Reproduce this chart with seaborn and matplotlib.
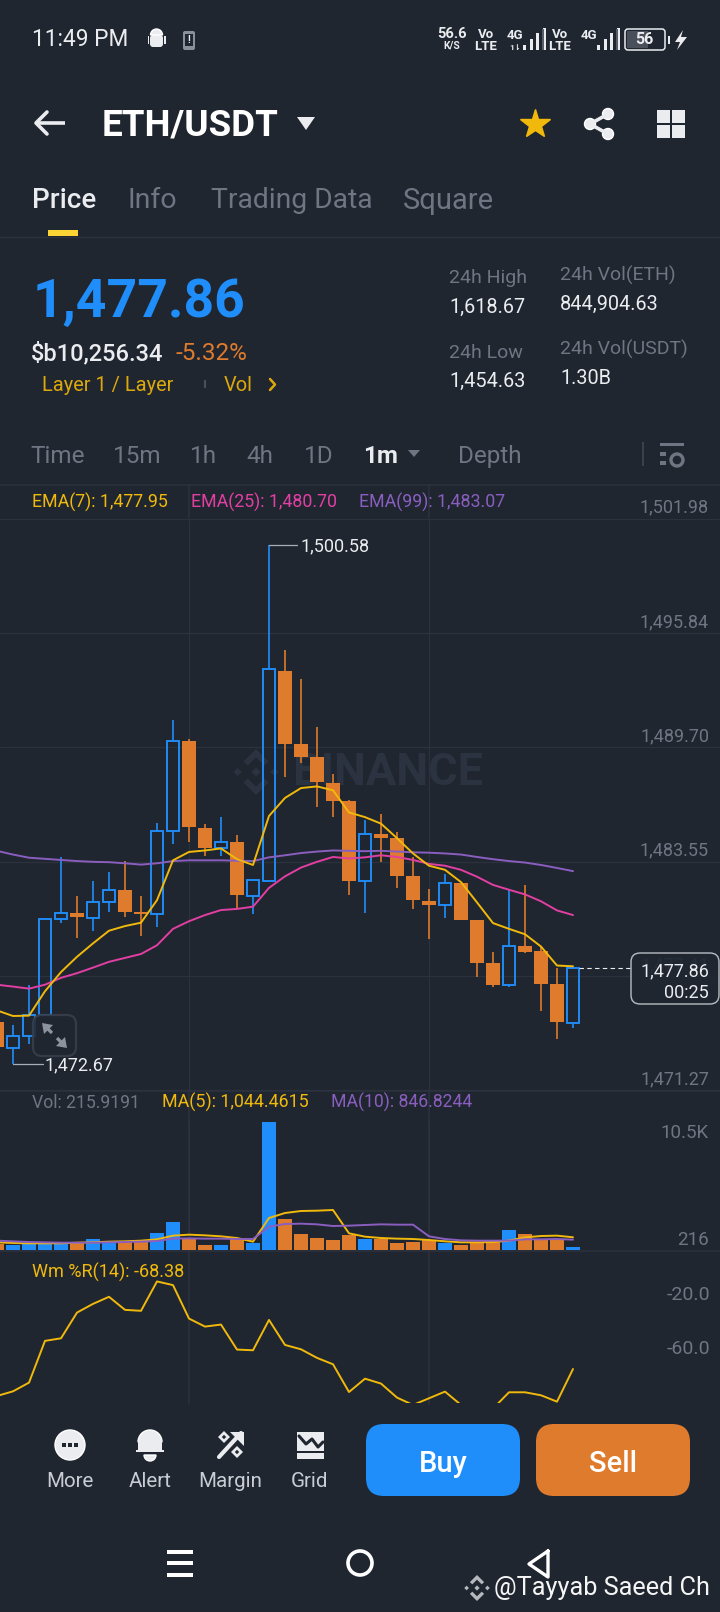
import numpy as np
import pandas as pd
import matplotlib
matplotlib.use('Agg')
import matplotlib.pyplot as plt
from matplotlib.patches import Circle, FancyBboxPatch, Polygon, Rectangle, Wedge
import seaborn as sns

# ----------- DATA ------------

candle_open = [1474.96, 1473.54, 1474.22, 1475.31, 1480.46, 1480.79, 1480.55, 1481.37, 1482.03, 1480.85,
               1480.73, 1485.19, 1490.06, 1485.38, 1484.29, 1484.61, 1481.74, 1482.54, 1493.82, 1489.86,
               1489.18, 1487.80, 1486.79, 1482.52, 1485.03, 1484.82, 1482.79, 1481.47, 1481.25, 1482.40,
               1480.40, 1478.10, 1476.91, 1479.05, 1478.78, 1476.99, 1474.92]
candle_close = [1473.58, 1474.20, 1475.31, 1480.46, 1480.81, 1480.61, 1481.37, 1482.03, 1480.87, 1480.75,
                1485.19, 1490.06, 1485.42, 1484.31, 1484.61, 1481.76, 1482.56, 1493.90, 1489.88, 1489.20,
                1487.82, 1486.81, 1482.54, 1485.03, 1484.82, 1482.79, 1481.49, 1481.25, 1482.42, 1480.40,
                1478.12, 1476.95, 1479.05, 1478.72, 1477.01, 1474.96, 1477.87]
candle_high = [1474.96, 1474.77, 1476.91, 1480.46, 1483.79, 1481.70, 1482.52, 1482.99, 1483.59, 1481.70,
               1485.64, 1491.19, 1490.12, 1485.56, 1485.93, 1484.99, 1482.56, 1500.58, 1494.91, 1493.35,
               1490.80, 1488.25, 1486.86, 1485.77, 1486.10, 1485.13, 1483.79, 1482.09, 1482.91, 1482.40,
               1480.40, 1478.72, 1482.05, 1482.29, 1478.96, 1477.83, 1477.87]
candle_low = [1473.58, 1472.67, 1473.79, 1475.31, 1480.26, 1479.48, 1479.85, 1480.85, 1480.59, 1479.54,
              1480.07, 1484.53, 1484.61, 1483.84, 1483.84, 1481.06, 1480.77, 1482.54, 1488.11, 1488.87,
              1486.50, 1485.93, 1481.76, 1480.81, 1483.55, 1482.15, 1481.02, 1479.38, 1480.53, 1480.40,
              1477.36, 1476.81, 1476.85, 1478.66, 1475.53, 1474.03, 1474.65]

ema7 = [1475.57, 1475.27, 1475.29, 1476.60, 1477.63, 1478.45, 1479.17, 1479.85, 1480.10, 1480.28,
        1481.49, 1483.63, 1484.08, 1484.16, 1484.27, 1483.69, 1483.38, 1486.01, 1486.98, 1487.51,
        1487.60, 1487.39, 1486.20, 1485.95, 1485.60, 1484.82, 1484.00, 1483.34, 1483.12, 1482.46,
        1481.37, 1480.26, 1479.95, 1479.66, 1479.00, 1477.98, 1477.94]
ema25 = [1476.95, 1476.85, 1476.74, 1476.95, 1477.32, 1477.57, 1477.87, 1478.18, 1478.39, 1478.60,
         1479.07, 1479.95, 1480.36, 1480.69, 1480.96, 1481.02, 1481.14, 1482.15, 1482.77, 1483.24,
         1483.55, 1483.81, 1483.73, 1483.79, 1483.90, 1483.81, 1483.65, 1483.44, 1483.34, 1483.12,
         1482.75, 1482.31, 1482.05, 1481.80, 1481.43, 1480.94, 1480.69]
ema99 = [1484.14, 1483.94, 1483.77, 1483.71, 1483.65, 1483.59, 1483.55, 1483.53, 1483.47, 1483.40,
         1483.47, 1483.59, 1483.63, 1483.63, 1483.63, 1483.61, 1483.59, 1483.79, 1483.90, 1484.02,
         1484.10, 1484.16, 1484.14, 1484.12, 1484.14, 1484.10, 1484.06, 1484.04, 1484.00, 1483.94,
         1483.81, 1483.69, 1483.59, 1483.51, 1483.38, 1483.22, 1483.05]

volume = [492, 410, 547, 547, 547, 601, 930, 547, 629, 629, 1394, 2269, 902, 410, 437, 875, 601, 10500, 2543,
          1312, 984, 820, 1203, 902, 930, 574, 629, 820, 601, 437, 629, 656, 1668, 1312, 902, 820, 216]
vol_ma5 = [629, 574, 547, 547, 547, 601, 629, 684, 711, 766, 875, 1176, 1258, 1203, 1121, 984, 684, 2625, 3035,
           3199, 3226, 3281, 1367, 1094, 984, 930, 902, 820, 711, 629, 629, 656, 766, 1039, 1148, 1176, 1044]
vol_ma10 = [766, 711, 656, 629, 601, 601, 601, 629, 656, 684, 738, 930, 957, 930, 930, 902, 902, 1914, 2133,
            2160, 2105, 1968, 1996, 2051, 2105, 2078, 2078, 1121, 902, 793, 766, 766, 766, 875, 875, 902, 847]

williams_r = [-88.2, -84.8, -78.4, -47.7, -45.8, -26.9, -20.5, -15.3, -24.9, -25.6, -4.0, -6.7, -31.3, -37.2,
              -35.7, -54.1, -54.6, -32.3, -50.7, -53.9, -60.2, -64.9, -85.3, -75.5, -79.1, -89.4, -94.8, -89.9,
              -85.0, -94.8, -99.8, -97.5, -85.5, -85.5, -87.7, -92.4, -68.38]

price_ticks = [1501.98, 1495.84, 1489.70, 1483.55, 1477.41, 1471.27]
price_tick_labels = ['1,501.98', '1,495.84', '1,489.70', '1,483.55', '1,477.41', '1,471.27']
last_price = 1477.86

# ----------- STYLE ------------

BG = '#1F2630'
LINE = '#2B323E'
GRAY = '#6E7684'
LIGHT = '#EAECEF'
BLUE = '#1F8EFA'
ORANGE = '#DE7B2C'
YELLOW = '#F0B90B'
PINK = '#E23FA3'
PURPLE = '#8A5EBF'

W, H = 720, 1612
sns.set_theme(style='dark', rc={'axes.facecolor': 'none', 'figure.facecolor': BG})
plt.rcParams['font.family'] = ['Roboto', 'DejaVu Sans']

fig = plt.figure(figsize=(W / 100, H / 100), dpi=100)

# layer under the charts and layer over them, both in pixels
ui = fig.add_axes([0, 0, 1, 1], zorder=0)
top = fig.add_axes([0, 0, 1, 1], zorder=5)
for a in (ui, top):
    a.set_xlim(0, W)
    a.set_ylim(H, 0)
    a.set_axis_off()


def t(x, y, s, size=12, color=GRAY, ha='left', weight='normal', layer=ui):
    # va center sits a little high because of the descent, hence the 1.5
    layer.text(x, y + 1.5, s, fontsize=size, color=color, ha=ha, va='center', fontweight=weight)


def rect(x0, y0, x1, y1, color, layer=ui):
    layer.add_patch(Rectangle((x0, y0), x1 - x0, y1 - y0, facecolor=color, edgecolor='none'))


def rbox(x0, y0, x1, y1, r, face, edge='none', lw=1, layer=ui, alpha=None):
    layer.add_patch(FancyBboxPatch((x0 + r, y0 + r), x1 - x0 - 2 * r, y1 - y0 - 2 * r,
                                   boxstyle=f'round,pad={r},rounding_size={r}',
                                   facecolor=face, edgecolor=edge, linewidth=lw, alpha=alpha))


def poly(pts, color, layer=ui):
    layer.add_patch(Polygon(pts, closed=True, facecolor=color, edgecolor='none'))


def diamond(cx, cy, r, color, layer=ui):
    poly([(cx - r, cy), (cx, cy - r), (cx + r, cy), (cx, cy + r)], color, layer)


def binance_logo(cx, cy, s, color):
    # big chevrons top and bottom, small diamonds left, right and centre
    for sign in (-1, 1):
        poly([(cx - 0.55 * s, cy + sign * 0.45 * s), (cx, cy + sign * s), (cx + 0.55 * s, cy + sign * 0.45 * s),
              (cx + 0.36 * s, cy + sign * 0.28 * s), (cx, cy + sign * 0.64 * s),
              (cx - 0.36 * s, cy + sign * 0.28 * s)], color)
        diamond(cx + sign * 0.8 * s, cy, 0.18 * s, color)
    diamond(cx, cy, 0.2 * s, color)


def panel(y_top, y_bottom):
    a = fig.add_axes([0, 1 - y_bottom / H, 1, (y_bottom - y_top) / H], zorder=2)
    a.set_xlim(0.1875, 45.1875)
    a.tick_params(length=0, labelleft=False, labelbottom=False)
    a.set_xticks([])
    sns.despine(ax=a, left=True, bottom=True)
    return a


# ----------- STATUS BAR AND HEADER ------------

t(32, 38.5, '11:49 PM', 16.3, LIGHT)
rbox(150, 35, 163, 47, 3, LIGHT)
ui.add_patch(Wedge((156.5, 35), 6, 180, 360, facecolor=LIGHT))
rect(147.5, 36, 149, 44, LIGHT)
rect(164, 36, 165.5, 44, LIGHT)
rbox(183, 31, 195, 50, 2, '#8A9099')
rect(185, 34, 193, 46, BG)
t(189, 38.5, '!', 7, LIGHT, 'center', 'bold')

t(452, 32, '56.6', 10.5, LIGHT, 'center', 'bold')
t(452, 44, 'K/S', 7.5, LIGHT, 'center', 'bold')
for cx in (486, 560):
    t(cx, 33, 'Vo', 9.5, LIGHT, 'center', 'bold')
    t(cx, 45, 'LTE', 9.5, LIGHT, 'center', 'bold')
t(515, 34, '4G', 9.5, LIGHT, 'center', 'bold')
t(515, 46, '1⇂', 6, LIGHT, 'center', 'bold')
t(589, 34, '4G', 9.5, LIGHT, 'center', 'bold')
for x0 in (523, 597):
    for k, h in enumerate((5, 11, 17, 22)):
        rect(x0 + k * 6.5, 50 - h, x0 + k * 6.5 + 3, 50, LIGHT)
    rect(x0 + 18.5, 29, x0 + 21, 50, '#565D69')
rbox(625, 29, 665, 50, 3, BG, LIGHT, 1.1)
rect(627, 31, 648, 48, '#4A505B')
t(644, 38.5, '56', 11.5, LIGHT, 'center', 'bold')
rect(668, 36, 670, 44, LIGHT)
poly([(683, 30), (675, 42), (680, 42), (677, 50), (687, 37), (681, 37)], LIGHT)

# back arrow
ui.plot([36, 65], [123, 123], color=LIGHT, lw=2.6, solid_capstyle='butt')
ui.plot([47, 36, 47], [112, 123, 134], color=LIGHT, lw=2.6)
t(102, 124, 'ETH/USDT', 26.5, '#FFFFFF', weight='bold')
poly([(297, 117), (315, 117), (306, 130)], LIGHT)
ui.plot([535], [124], marker='*', ms=22, color=YELLOW, mec=YELLOW)
ui.plot([608, 590, 608], [114, 124, 134], color=LIGHT, lw=2.6)
for cx, cy in ((608, 114), (590, 124), (608, 134)):
    ui.add_patch(Circle((cx, cy), 5.5, facecolor=LIGHT))
for x0, y0 in ((657, 110), (672, 110), (657, 125), (672, 125)):
    rect(x0, y0, x0 + 12.5, y0 + 12.5, LIGHT)

t(32, 199.5, 'Price', 20, LIGHT, weight='medium')
t(127, 199.5, 'Info', 20.5)
t(211, 199.5, 'Trading Data', 20.3)
t(403, 199.5, 'Square', 21)
rect(48, 230, 78, 236, '#FCD535')
ui.plot([0, W], [236.5, 236.5], color=LINE, lw=1)

# ----------- TICKER ------------

t(33, 301, '1,477.86', 38.5, BLUE, weight='bold')
t(31, 352.5, '$b10,256.34', 17, LIGHT, weight='medium')
t(175, 352.5, '-5.32%', 17.5, ORANGE)
t(42, 384, 'Layer 1 / Layer', 14.4, '#DDA80C')
rect(204, 380, 206, 388, '#4A505B')
t(224, 384, 'Vol', 14.4, '#DDA80C')
ui.plot([270, 275, 270], [379, 384.5, 390], color='#DDA80C', lw=1.8)
t(449, 276.5, '24h High', 14)
t(449, 305.5, '1,618.67', 14.3, LIGHT)
t(560, 273.5, '24h Vol(ETH)', 14)
t(560, 302.5, '844,904.63', 14.3, LIGHT)
t(449, 351.5, '24h Low', 14)
t(449, 379.5, '1,454.63', 14.3, LIGHT)
t(560, 347.5, '24h Vol(USDT)', 14)
t(560, 376.5, '1.30B', 14.3, LIGHT)

# ----------- INTERVAL TABS ------------

for x, label in ((30, 'Time'), (113, '15m'), (190, '1h'), (246, '4h'), (304, '1D'), (458, 'Depth')):
    t(x, 455, label, 17.5)
t(363, 455, '1m', 17.5, LIGHT, weight='bold')
poly([(408, 450), (420, 450), (414, 457)], GRAY)
rect(642, 442, 643.5, 466, '#3A414D')
rect(660, 443, 684, 446, GRAY)
rect(660, 452, 666, 456, GRAY)
rect(660, 461, 666, 465, GRAY)
ui.add_patch(Circle((677, 460), 6, facecolor=BG, edgecolor=GRAY, linewidth=2.4))

ui.plot([0, W], [485, 485], color=LINE, lw=1.2)
t(32, 501, 'EMA(7): 1,477.95', 12.8, YELLOW)
t(191, 501, 'EMA(25): 1,480.70', 12.8, PINK)
t(359, 501, 'EMA(99): 1,483.07', 12.8, PURPLE)
ui.plot([189, 189], [485, 518], color=LINE, lw=1.2)
ui.plot([429, 429], [485, 518], color=LINE, lw=1.2)

# watermark
binance_logo(256, 772, 23, '#2B3340')
ui.text(292, 773, 'BINANCE', fontsize=32.5, fontweight='bold', color='#2B3340', va='center')

# ----------- PRICE PANEL ------------

idx = np.arange(len(candle_open))
ax_price = panel(518.6, 1090.5)
ax_price.set_ylim(price_ticks[-1], price_ticks[0])
ax_price.set_yticks(price_ticks)
ax_price.grid(axis='y', color=LINE, lw=0.9)
ax_price.set_axisbelow(True)
for i in (12, 27):
    ax_price.axvline(i, color=LINE, lw=0.9, zorder=0)

for i in idx:
    o, c, hi, lo = candle_open[i], candle_close[i], candle_high[i], candle_low[i]
    body_lo, body_hi = min(o, c), max(o, c)
    if c >= o:
        color = BLUE
        ax_price.bar(i, body_hi - body_lo, bottom=body_lo, width=0.77, facecolor='none', edgecolor=BLUE, lw=1.35)
    else:
        color = ORANGE
        ax_price.bar(i, body_hi - body_lo, bottom=body_lo, width=0.86, color=ORANGE, lw=0)
    ax_price.vlines(i, body_hi, hi, color=color, lw=1.2)
    ax_price.vlines(i, lo, body_lo, color=color, lw=1.2)

for series, color in ((ema99, PURPLE), (ema25, PINK), (ema7, YELLOW)):
    sns.lineplot(x=idx, y=series, ax=ax_price, color=color, lw=1.4, legend=False)
ax_price.set_xlim(0.1875, 45.1875)
ax_price.set_ylim(price_ticks[-1], price_ticks[0])
ax_price.set_xlabel('')
ax_price.set_ylabel('')

# right hand price labels sit above their grid line
for value, label in zip(price_ticks, price_tick_labels):
    ax_price.annotate(label, xy=(709 / W, value), xycoords=ax_price.get_yaxis_transform(), xytext=(0, 1.5),
                      textcoords='offset points', ha='right', va='bottom', fontsize=13, color=GRAY,
                      annotation_clip=False)

# high and low callouts
ax_price.plot([17, 18.75], [1500.58, 1500.58], color='#A9AEB6', lw=0.9)
ax_price.text(18.95, 1500.5, '1,500.58', color=LIGHT, fontsize=13, va='center')
ax_price.plot([1, 2.88], [1472.67, 1472.67], color='#A9AEB6', lw=0.9)
ax_price.text(2.95, 1472.6, '1,472.67', color=LIGHT, fontsize=13, va='center')

# last price line
ax_price.plot([36.4, 39.6], [last_price, last_price], color=LIGHT, lw=0.8, ls=(0, (4, 3)))

rbox(631, 953, 719, 1004, 9, BG, '#C9CDD3', 1, top, alpha=0.9)
t(709, 970, '1,477.86', 13, LIGHT, 'right', layer=top)
t(709, 992, '00:25', 13, LIGHT, 'right', layer=top)

# expand button
rbox(33, 1015, 76, 1056, 9, BG, '#39404C', 1.6, top, alpha=0.85)
top.plot([47, 52], [1028, 1033], color='#8D939C', lw=2.4, solid_capstyle='butt')
top.plot([57, 62], [1038, 1043], color='#8D939C', lw=2.4, solid_capstyle='butt')
poly([(42, 1023), (53, 1025), (44, 1034)], '#8D939C', top)
poly([(67, 1048), (56, 1046), (65, 1037)], '#8D939C', top)

# ----------- VOLUME PANEL ------------

ui.plot([0, W], [1091, 1091], color=LINE, lw=1.2)
t(32, 1101, 'Vol: 215.9191', 12.7)
t(162, 1101, 'MA(5): 1,044.4615', 12.9, YELLOW)
t(331, 1101, 'MA(10): 846.8244', 12.7, PURPLE)
t(709, 1131.5, '10.5K', 13.5, GRAY, 'right')
t(709, 1238.5, '216', 13.5, GRAY, 'right')
ui.plot([0, W], [1250.5, 1250.5], color=LINE, lw=1.2)

ax_vol = panel(1122, 1250)
for i in (12, 27):
    ax_vol.axvline(i, color=LINE, lw=0.9, zorder=0)
vol_df = pd.DataFrame({
    'i': idx,
    'volume': volume,
    'side': ['up' if c >= o else 'down' for o, c in zip(candle_open, candle_close)],
})
sns.barplot(data=vol_df, x='i', y='volume', hue='side', palette={'up': BLUE, 'down': ORANGE}, native_scale=True,
            dodge=False, width=0.88, gap=0, saturation=1, errorbar=None, legend=False, linewidth=0, ax=ax_vol)
sns.lineplot(x=idx, y=vol_ma5, ax=ax_vol, color=YELLOW, lw=1.4, legend=False)
sns.lineplot(x=idx, y=vol_ma10, ax=ax_vol, color=PURPLE, lw=1.4, legend=False)
ax_vol.set_xlim(0.1875, 45.1875)
ax_vol.set_ylim(0, 10500)
ax_vol.set_xticks([])
ax_vol.set_yticks([])
ax_vol.set_xlabel('')
ax_vol.set_ylabel('')

# ----------- WILLIAMS %R PANEL ------------

ui.plot([189, 189], [1091, 1404], color=LINE, lw=1.2)
ui.plot([429, 429], [1091, 1404], color=LINE, lw=1.2)
t(32, 1271, 'Wm %R(14): -68.38', 13, YELLOW)
t(710, 1293, '-20.0', 14, GRAY, 'right')
t(710, 1347, '-60.0', 14, GRAY, 'right')

ax_wr = panel(1276, 1403.3)
sns.lineplot(x=idx, y=williams_r, ax=ax_wr, color=YELLOW, lw=1.4, legend=False)
ax_wr.set_xlim(0.1875, 45.1875)
ax_wr.set_ylim(-93.6, 0)
ax_wr.set_yticks([])
ax_wr.set_xlabel('')
ax_wr.set_ylabel('')

# ----------- BOTTOM BAR ------------

NAV = '#EAECEF'
ui.add_patch(Circle((70, 1445), 15, facecolor=NAV))
for dx in (-6, 0, 6):
    rect(70 + dx - 1.8, 1443, 70 + dx + 1.8, 1447, BG)
ui.add_patch(Wedge((150, 1442), 12, 180, 360, facecolor=NAV))
rect(138, 1441, 162, 1452, NAV)
rect(136, 1450, 164, 1452, NAV)
ui.add_patch(Wedge((150, 1455), 6, 0, 180, facecolor=NAV))
ui.plot([219, 241], [1457, 1433], color=NAV, lw=3)
poly([(230, 1432), (244, 1432), (244, 1446)], NAV)
diamond(224, 1437, 6, NAV)
diamond(237, 1452, 6, NAV)
diamond(224, 1437, 2.2, BG)
diamond(237, 1452, 2.2, BG)
rect(297, 1432, 324, 1451, NAV)
ui.plot([299, 306, 312, 318, 323], [1436, 1444, 1439, 1447, 1442], color=BG, lw=2.2)
rect(297, 1453, 324, 1459, NAV)

t(70, 1480, 'More', 14.8, '#C9CDD3', 'center')
t(150, 1480, 'Alert', 14.8, '#C9CDD3', 'center')
t(230, 1480, 'Margin', 14.8, '#C9CDD3', 'center')
t(310, 1480, 'Grid', 14.8, '#C9CDD3', 'center')

rbox(366, 1424, 520, 1496, 18, BLUE)
rbox(536, 1424, 690, 1496, 18, ORANGE)
t(443, 1462, 'Buy', 21, '#FFFFFF', 'center', 'medium')
t(613, 1462, 'Sell', 21, '#FFFFFF', 'center', 'medium')

for y in (1552, 1563, 1575):
    rect(167, y - 1.7, 193, y + 1.7, '#FFFFFF')
ui.add_patch(Circle((360, 1563), 12, facecolor='none', edgecolor='#FFFFFF', linewidth=2.6))
ui.plot([548, 529, 548, 548], [1551, 1564, 1577, 1551], color='#FFFFFF', lw=2.4)

binance_logo(477, 1588, 13, '#B5B8BD')
t(494, 1586.5, '@Tayyab Saeed Ch', 18.2, '#F5F5F5')

fig.savefig('out.png', dpi=100, facecolor=BG)
